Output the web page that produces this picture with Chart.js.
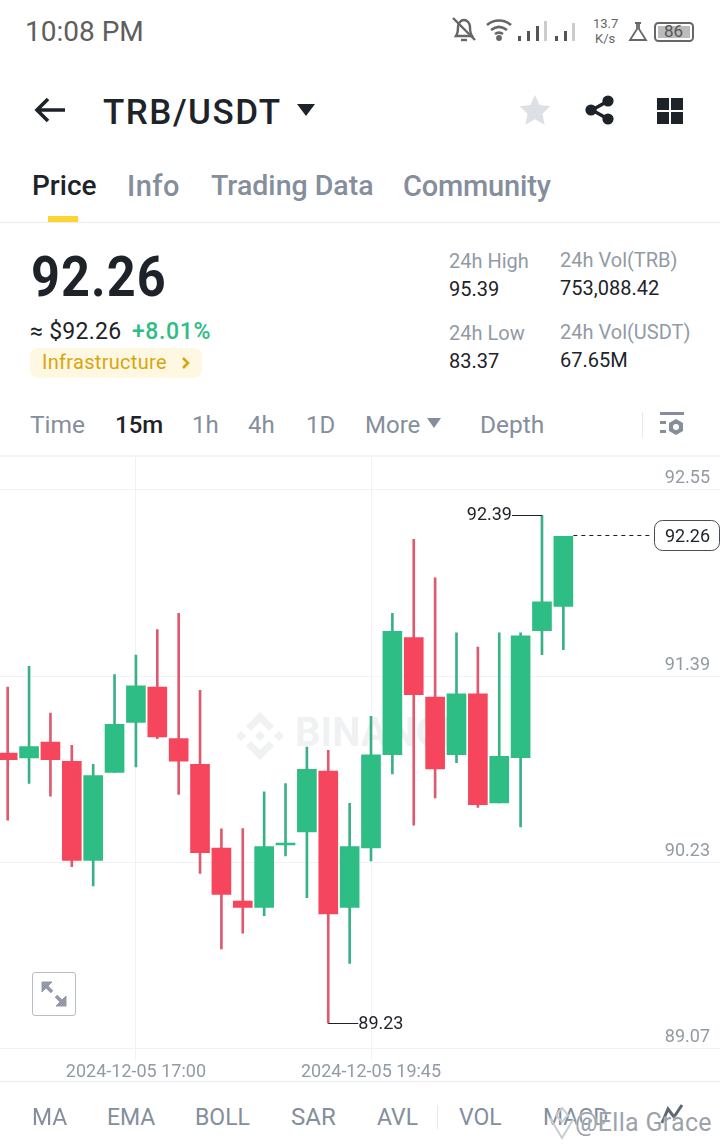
<!DOCTYPE html>
<html><head><meta charset="utf-8">
<script src="https://cdn.jsdelivr.net/npm/chart.js@4"></script>
<style>
html,body{margin:0;padding:0;background:#fff;width:720px;height:1144px;overflow:hidden}
body{position:relative;font-family:Roboto,"Noto Sans",sans-serif;color:#1E2329}
.t{position:absolute;white-space:nowrap;line-height:1;transform:translateY(-50%)}
.g{color:#929AA5}.m{color:#848E9C}
.ln{position:absolute;left:0;width:720px;background:#EAECEF}
svg{position:absolute;overflow:visible}
#wrap{position:absolute;left:0;top:456px;width:720px;height:625px}
</style></head><body>
<div class="t" style="left:25px;top:32px;font-size:28px;color:#5E5E5E">10:08 PM</div>
<svg style="left:451px;top:16px" width="26" height="28" fill="none" stroke="#666" stroke-width="2.4"><path d="M5 20c2-3 2-6 2-9 0-4 3-7 6-7s6 3 6 7c0 3 0 6 2 9z"/><path d="M10 24h6"/><path d="M2 2l22 22"/></svg>
<svg style="left:486px;top:18px" width="28" height="24" fill="none" stroke="#666" stroke-width="2.6"><path d="M1 7c7-6 17-6 24 0M5 12c5-4 11-4 16 0M9 16c3-2 5-2 8 0"/><circle cx="13" cy="20" r="1.6" fill="#666"/></svg>
<svg style="left:510px;top:20px" width="72" height="24"><g fill="#555"><rect x="8" y="16" width="3" height="5"/><rect x="17" y="11" width="3" height="10"/><rect x="26" y="6" width="3" height="15"/><rect x="45" y="16" width="3" height="5"/><rect x="54" y="11" width="3" height="10"/></g><g fill="#ccc"><rect x="34" y="1" width="3" height="20"/><rect x="62" y="3" width="3" height="18"/></g></svg>
<div class="t" style="left:593px;top:23px;font-size:13px;color:#666">13.7</div>
<div class="t" style="left:595px;top:38px;font-size:13px;color:#666">K/s</div>
<svg style="left:629px;top:22px" width="22" height="20" fill="none" stroke="#666" stroke-width="1.8"><path d="M6 1h6M8 1v6L1 18h16L10 7V1"/></svg>
<svg style="left:654px;top:22px" width="40" height="20"><rect x="1" y="1" width="38" height="18" rx="3.5" fill="#fff" stroke="#666" stroke-width="2"/><rect x="4" y="4" width="32" height="12" fill="#bbb"/></svg>
<div class="t" style="left:664px;top:31px;font-size:17px;color:#555">86</div>

<svg style="left:35px;top:97px" width="32" height="26" fill="none" stroke="#1E2329" stroke-width="3.6"><path d="M30 13H3M13 2L2 13l11 11"/></svg>
<div class="t" style="left:103px;top:112px;font-size:35px;font-weight:500;letter-spacing:1.5px">TRB/USDT</div>
<svg style="left:296px;top:103px" width="20" height="14"><path d="M1 1h18L10 13z" fill="#1E2329"/></svg>
<svg style="left:519px;top:94px" width="32" height="32"><path d="M16 1l4.7 10 10.6 1.2-7.8 7.5 2.1 11L16 25.3 6.4 30.7l2.1-11L.7 12.2 11.3 11z" fill="#DDE0E5"/></svg>
<svg style="left:584px;top:94px" width="32" height="32" stroke="#1E2329" stroke-width="3.4" fill="#1E2329"><path d="M24 7L8 16l16 9" fill="none"/><circle cx="24" cy="7" r="5.6" stroke="none"/><circle cx="7" cy="16" r="5.6" stroke="none"/><circle cx="24" cy="25" r="5.6" stroke="none"/></svg>
<svg style="left:656px;top:97px" width="28" height="28" fill="#1E2329"><rect x="1" y="1" width="12" height="12"/><rect x="15" y="1" width="12" height="12"/><rect x="1" y="15" width="12" height="12"/><rect x="15" y="15" width="12" height="12"/></svg>

<div class="t" style="left:32px;top:186px;font-size:28px;font-weight:500">Price</div>
<div class="t m" style="left:127px;top:186px;font-size:29px;font-weight:500;letter-spacing:.5px">Info</div>
<div class="t m" style="left:211px;top:186px;font-size:28.5px;font-weight:500">Trading Data</div>
<div class="t m" style="left:403px;top:186px;font-size:29px;font-weight:500;letter-spacing:-.2px">Community</div>
<div style="position:absolute;left:48px;top:216px;width:30px;height:6px;background:#FCD535"></div>
<div class="ln" style="top:222px;height:1px"></div>

<div class="t" style="left:31px;top:277px;font-size:56px;font-weight:700;letter-spacing:1.2px;transform:translateY(-50%) scaleX(.9);transform-origin:left center">92.26</div>
<div class="t" style="left:30px;top:331px;font-size:23px;letter-spacing:.25px">≈ $92.26</div>
<div class="t" style="left:132px;top:331px;font-size:23px;color:#2EBD85;font-weight:500;letter-spacing:.6px">+8.01%</div>
<div style="position:absolute;left:30px;top:348px;width:172px;height:30px;border-radius:8px;background:#FEF8E3"></div>
<div class="t" style="left:42px;top:362px;font-size:20px;color:#D9A50E;letter-spacing:.3px">Infrastructure</div>
<svg style="left:181px;top:356px" width="10" height="14" fill="none" stroke="#D9A50E" stroke-width="2.6"><path d="M2 2l5 5-5 5"/></svg>

<div class="t g" style="left:449px;top:261px;font-size:20px">24h High</div>
<div class="t" style="left:449px;top:289px;font-size:20px">95.39</div>
<div class="t g" style="left:560px;top:260px;font-size:20px">24h Vol(TRB)</div>
<div class="t" style="left:560px;top:288px;font-size:20px">753,088.42</div>
<div class="t g" style="left:449px;top:333px;font-size:20px">24h Low</div>
<div class="t" style="left:449px;top:361px;font-size:20px">83.37</div>
<div class="t g" style="left:560px;top:332px;font-size:20px">24h Vol(USDT)</div>
<div class="t" style="left:560px;top:360px;font-size:20px">67.65M</div>

<div class="t m" style="left:30px;top:425px;font-size:24.5px">Time</div>
<div class="t" style="left:115px;top:425px;font-size:24px;font-weight:500">15m</div>
<div class="t m" style="left:192px;top:425px;font-size:24px">1h</div>
<div class="t m" style="left:248px;top:425px;font-size:24px">4h</div>
<div class="t m" style="left:306px;top:425px;font-size:24px">1D</div>
<div class="t m" style="left:365px;top:425px;font-size:24px">More</div>
<svg style="left:427px;top:418px" width="14" height="10"><path d="M0 0h14L7 10z" fill="#848E9C"/></svg>
<div class="t m" style="left:480px;top:425px;font-size:24.5px">Depth</div>
<div style="position:absolute;left:642px;top:412px;width:1px;height:25px;background:#E6E8EA"></div>
<svg style="left:660px;top:412px" width="24" height="26" fill="#848E9C"><rect x="0" y="0" width="24" height="3"/><rect x="0" y="9" width="6" height="3"/><rect x="0" y="18" width="6" height="3"/><path d="M16 7l7 4v8l-7 4-7-4v-8z"/><circle cx="16" cy="15" r="3" fill="#fff"/></svg>

<div class="ln" style="top:455px;height:2px;background:#F3F4F5"></div>
<div id="wrap"><canvas id="c" width="720" height="625"></canvas></div>
<div class="ln" style="top:1081px;height:1px"></div>

<div style="position:absolute;left:32px;top:972px;width:42px;height:42px;border:1.5px solid #B7BDC6;border-radius:3px;background:#fff"></div>
<svg style="left:41px;top:981px" width="26" height="26" fill="#929AA5" stroke="#929AA5"><path d="M1 1h10L1 11z"/><path d="M25 25H15l10-10z"/><path d="M4 4l7 7M15 15l7 7" stroke-width="3.6"/></svg>

<div class="t m" style="left:32px;top:1117px;font-size:23px">MA</div>
<div class="t m" style="left:107px;top:1117px;font-size:23px">EMA</div>
<div class="t m" style="left:195px;top:1117px;font-size:23px">BOLL</div>
<div class="t m" style="left:291px;top:1117px;font-size:24px">SAR</div>
<div class="t m" style="left:377px;top:1117px;font-size:23px">AVL</div>
<div style="position:absolute;left:437px;top:1105px;width:1px;height:24px;background:#E6E8EA"></div>
<div class="t m" style="left:459px;top:1117px;font-size:23px">VOL</div>
<div class="t m" style="left:543px;top:1117px;font-size:23px">MACD</div>
<svg style="left:660px;top:1103px" width="24" height="22" fill="none" stroke="#5E6673" stroke-width="3"><path d="M2 20L8 6l6 8 8-12"/></svg>
<svg style="left:546px;top:1106px" width="34" height="36" fill="none" stroke="#C9CDD2" stroke-width="2"><path d="M16 2l6 7-6 7-6-7zM4 12l12 20 12-20"/></svg>
<div class="t" style="left:575px;top:1122px;font-size:25px;letter-spacing:.3px;color:#9CA3AC;text-shadow:0 0 2px #fff">@Ella Grace</div>

<script>
const categories = ['15:30','15:45','16:00','16:15','16:30','16:45','17:00','17:15','17:30','17:45','18:00','18:15','18:30','18:45','19:00','19:15','19:30','19:45','20:00','20:15','20:30','20:45','21:00','21:15','21:30','21:45','22:00'];
const opens  = [90.911,90.880,90.979,90.860,90.242,90.791,91.102,91.321,91.001,90.841,90.319,89.989,89.950,90.339,90.420,90.799,89.950,90.321,90.901,91.630,91.259,90.901,91.280,90.600,90.882,91.672,91.823];
const highs  = [91.321,91.450,91.160,90.959,90.841,91.400,91.520,91.680,91.781,91.301,90.439,90.441,90.669,90.721,90.948,90.928,90.598,91.139,91.781,92.241,92.001,91.659,91.570,91.659,91.659,92.39,92.26];
const lows   = [90.493,90.721,90.642,90.203,90.083,90.791,90.824,91.001,90.653,90.162,89.691,89.789,89.898,90.271,90.010,89.23,89.602,90.240,90.781,90.462,90.631,90.851,90.572,90.600,90.451,91.523,91.554];
const closes = [90.870,90.951,90.870,90.242,90.771,91.089,91.330,91.011,90.860,90.290,90.031,89.950,90.329,90.350,90.810,89.910,90.329,90.899,91.669,91.274,90.812,91.280,90.590,90.891,91.641,91.852,92.26];
const priceTicks = [92.55,91.39,90.23,89.07];
const timeTickIndex = [6,17];
const datePrefix = '2024-12-05 ';
const highLabel = 92.39, lowLabel = 89.23, lastPrice = 92.26;
const UP = '#2EBD85', DOWN = '#F6465D', UPW = '#3AB087', DOWNW = '#DE5A6E', GREY = '#929AA5', DARK = '#1E2329', GRID = '#F1F2F3';

const colors = closes.map((c,i)=> c>=opens[i] ? UP : DOWN);
const wickColors = closes.map((c,i)=> c>=opens[i] ? UPW : DOWNW);
const idx = categories.map((_,i)=>i);
const bodies = idx.map(i=>({x:i,y:[opens[i],closes[i]]}));
const wicks  = idx.map(i=>({x:i,y:[lows[i],highs[i]]}));

const overlay = {
  id:'overlay',
  beforeDatasetsDraw(ch){
    const {ctx} = ch;
    ctx.save();
    ctx.fillStyle = '#F0F1F2';
    const cx=260, cy=736, d=(x,y,r)=>{ctx.beginPath();ctx.moveTo(x,y-r);ctx.lineTo(x+r,y);ctx.lineTo(x,y+r);ctx.lineTo(x-r,y);ctx.closePath();ctx.fill();};
    ctx.translate(0,-456);
    d(cx-19,cy,5); d(cx+19,cy,5); d(cx,cy,5);
    ctx.beginPath();ctx.moveTo(cx,cy-24);ctx.lineTo(cx+14,cy-10);ctx.lineTo(cx+9,cy-5);ctx.lineTo(cx,cy-14);ctx.lineTo(cx-9,cy-5);ctx.lineTo(cx-14,cy-10);ctx.closePath();ctx.fill();
    ctx.beginPath();ctx.moveTo(cx,cy+24);ctx.lineTo(cx+14,cy+10);ctx.lineTo(cx+9,cy+5);ctx.lineTo(cx,cy+14);ctx.lineTo(cx-9,cy+5);ctx.lineTo(cx-14,cy+10);ctx.closePath();ctx.fill();
    ctx.font='700 40px Roboto';ctx.textAlign='left';ctx.textBaseline='middle';
    ctx.fillText('BINANCE',295,cy);
    ctx.restore();
  },
  afterDatasetsDraw(ch){
    const {ctx,scales:{x,y}} = ch;
    ctx.save();
    ctx.font='18px Roboto';ctx.fillStyle=DARK;ctx.strokeStyle=DARK;ctx.lineWidth=1;ctx.textBaseline='middle';
    const hi=highs.indexOf(highLabel), lo=lows.indexOf(lowLabel), la=closes.length-1;
    const yh=Math.round(y.getPixelForValue(highLabel))+.5, yl=Math.round(y.getPixelForValue(lowLabel))+.5, yp=Math.round(y.getPixelForValue(lastPrice))-.5;
    ctx.beginPath();ctx.moveTo(x.getPixelForValue(hi),yh);ctx.lineTo(x.getPixelForValue(hi)-30,yh);ctx.stroke();
    ctx.textAlign='right';ctx.fillText(highLabel.toFixed(2),x.getPixelForValue(hi)-30,yh);
    ctx.beginPath();ctx.moveTo(x.getPixelForValue(lo),yl);ctx.lineTo(x.getPixelForValue(lo)+30,yl);ctx.stroke();
    ctx.textAlign='left';ctx.fillText(lowLabel.toFixed(2),x.getPixelForValue(lo)+30,yl+1);
    ctx.setLineDash([4,4]);
    ctx.beginPath();ctx.moveTo(x.getPixelForValue(la)+10,yp);ctx.lineTo(650,yp);ctx.stroke();
    ctx.setLineDash([]);
    ctx.strokeStyle='#474D57';ctx.fillStyle='#fff';
    ctx.beginPath();ctx.roundRect(654.5,yp-15,65,30,8);ctx.fill();ctx.stroke();
    ctx.fillStyle=DARK;ctx.font='18px Roboto';ctx.textAlign='center';ctx.fillText(lastPrice.toFixed(2),687.5,yp+2);
    ctx.restore();
  }
};

new Chart(document.getElementById('c'),{
  type:'bar',
  data:{datasets:[
    {data:bodies,backgroundColor:colors,barThickness:19,order:1,borderSkipped:false},
    {data:wicks,backgroundColor:wickColors,barThickness:2,order:2,borderSkipped:false}
  ]},
  options:{
    responsive:false,animation:false,
    layout:{padding:0},
    plugins:{legend:{display:false},tooltip:{enabled:false}},
    datasets:{bar:{grouped:false}},
    scales:{
      x:{type:'linear',min:-0.36,max:33.33,offset:false,
        grid:{color:GRID,lineWidth:1,drawTicks:false,offset:false},border:{display:false},
        afterBuildTicks(s){s.ticks=timeTickIndex.map(v=>({value:v}));},
        afterFit(s){s.height=21;},
        ticks:{autoSkip:false,maxRotation:0,color:GREY,padding:2,font:{size:18,family:'Roboto'},
          callback:v=>datePrefix+categories[v]}},
      y:{type:'linear',position:'right',min:89.0,max:92.755,
        grid:{color:GRID,lineWidth:1,drawTicks:false},border:{display:false},
        afterBuildTicks(s){s.ticks=priceTicks.map(v=>({value:v}));},
        afterFit(s){s.width=0;},
        ticks:{mirror:true,padding:-10,labelOffset:-11,color:GREY,font:{size:18,family:'Roboto'},
          callback:v=>v.toFixed(2)}}
    }
  },
  plugins:[overlay]
});
</script>
</body></html>
